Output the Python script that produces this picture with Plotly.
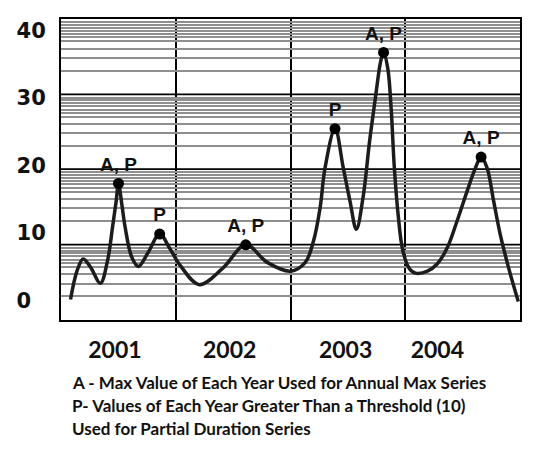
import plotly.graph_objects as go

# hydrograph trace, x in "year columns" (0..4), y in value units
CURVE_X = [0.083, 0.141, 0.193, 0.257, 0.343, 0.406, 0.449, 0.481, 0.501, 0.530,
           0.559, 0.616, 0.674, 0.760, 0.860, 0.950, 1.045, 1.205, 1.408, 1.610,
           1.797, 2.000, 2.129, 2.201, 2.258, 2.301, 2.388, 2.460, 2.518, 2.574,
           2.632, 2.689, 2.747, 2.785, 2.811, 2.848, 2.877, 2.905, 2.940, 2.978,
           3.035, 3.090, 3.193, 3.280, 3.367, 3.453, 3.540, 3.612, 3.661, 3.713,
           3.770, 3.827, 3.899, 3.985]
CURVE_Y = [0.1, 4.4, 6.1, 4.9, 2.5, 5.9, 10.8, 14.7, 17.3, 14.2,
           10.8, 6.4, 5.0, 7.1, 9.8, 7.6, 5.0, 2.3, 4.7, 8.2,
           5.6, 4.3, 5.6, 8.8, 13.7, 19.6, 25.4, 19.6, 14.7, 10.5,
           15.2, 23.5, 30.9, 35.3, 36.7, 34.3, 28.4, 19.6, 12.3, 7.4,
           4.7, 4.0, 4.3, 5.4, 7.8, 11.8, 16.2, 19.6, 21.2, 19.6,
           14.7, 9.8, 4.9, -0.2]

PEAK_X = [0.501, 0.860, 1.610, 2.388, 2.811, 3.661]
PEAK_Y = [17.3, 9.8, 8.2, 25.4, 36.7, 21.2]
PEAK_LABELS = ["A, P", "P", "A, P", "P", "A, P", "A, P"]

YEARS = ["2001", "2002", "2003", "2004"]
YEAR_POS = [0.47, 1.47, 2.48, 3.28]
YEAR_LINES = [1, 2, 3]

Y_TICKS = [0, 10, 20, 30, 40]
Y_TICKTEXT = ["0\u2007", "10", "20", "30", "40"]

# graph-paper rulings
GRID_MAJOR = [30.49, 19.41, 8.24]
GRID_MINOR = [41.18, 40.78, 40.40, 39.90, 39.41, 38.93, 38.34, 37.25, 35.88, 34.01,
              30.00, 29.60, 29.22, 28.72, 28.24, 27.75, 27.16, 26.07, 24.71, 22.84,
              18.93, 18.53, 18.15, 17.65, 17.16, 16.68, 16.09, 15.00, 13.63, 11.76,
              7.75, 7.35, 6.97, 6.47, 5.99, 5.50, 4.91, 3.82, 2.46, 0.59]

NOTES = [
    "A - Max Value of Each Year Used for Annual Max Series",
    "P- Values of Each Year Greater Than a Threshold (10)",
    "Used for Partial Duration Series",
]

fig = go.Figure()

fig.add_trace(go.Scatter(
    x=CURVE_X, y=CURVE_Y, mode="lines",
    line=dict(color="#1c1c1c", width=3.5, shape="spline", smoothing=1.0),
    hoverinfo="skip",
))
fig.add_trace(go.Scatter(
    x=PEAK_X, y=PEAK_Y, mode="markers+text",
    marker=dict(color="black", size=11),
    text=PEAK_LABELS, textposition="top center",
    textfont=dict(family="Liberation Sans", size=19, color="#111", weight="bold"),
))

for g in GRID_MAJOR:
    fig.add_shape(type="line", xref="paper", yref="y", x0=0, x1=1, y0=g, y1=g,
                  line=dict(color="black", width=1.8), layer="below")

for i, note in enumerate(NOTES):
    fig.add_annotation(text=note, xref="paper", yref="paper", x=0, y=0,
                       xanchor="left", yanchor="middle", xshift=9, yshift=-62 - 23 * i,
                       showarrow=False,
                       font=dict(family="Lato", size=17, color="#111", weight="bold"))

# page body adds 8px, so the figure is 8px smaller and margins shifted
fig.update_layout(
    width=542, height=443,
    margin=dict(l=49, r=30, t=9, b=131),
    paper_bgcolor="white", plot_bgcolor="white",
    showlegend=False,
    xaxis=dict(
        range=[0, 4], tickvals=YEAR_POS, ticktext=YEARS,
        showgrid=False, zeroline=False, ticks="", ticklabelstandoff=8,
        tickfont=dict(family="Lato", size=23, color="#111", weight="bold"),
        showline=True, mirror=True, linecolor="black", linewidth=2,
        minor=dict(tickmode="array", tickvals=YEAR_LINES, showgrid=True,
                   gridcolor="black", gridwidth=2, ticks=""),
    ),
    yaxis=dict(
        range=[-2.94, 41.66], tickvals=Y_TICKS, ticktext=Y_TICKTEXT,
        showgrid=False, zeroline=False, ticks="", ticklabelstandoff=9,
        tickfont=dict(family="DejaVu Sans", size=21, color="#111", weight="bold"),
        showline=True, mirror=True, linecolor="black", linewidth=2,
        minor=dict(tickmode="array", tickvals=GRID_MINOR, showgrid=True,
                   gridcolor="#8f8f8f", gridwidth=1.5, ticks=""),
    ),
)

fig.write_html("out.html")
